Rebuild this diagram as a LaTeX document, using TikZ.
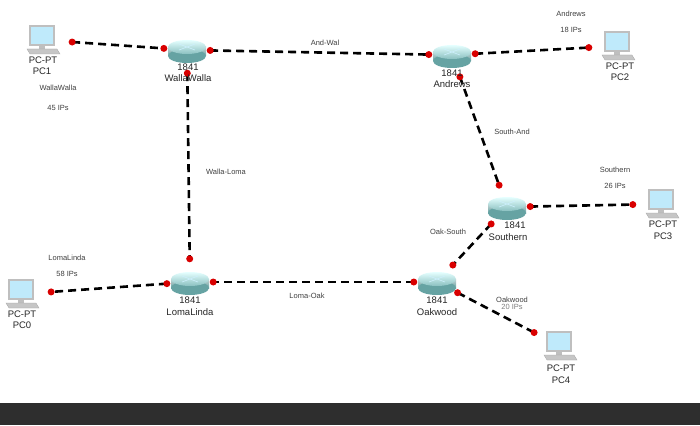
\documentclass[tikz,border=0pt]{standalone}
\usepackage{fontspec}
\setmainfont{Liberation Sans}
\begin{document}
\begin{tikzpicture}[x=1pt,y=-1pt,
  dev/.style={circle,minimum size=46pt,inner sep=0pt},
  pcdev/.style={circle,minimum size=58pt,inner sep=0pt},
  lnk/.style={line width=2.6pt,dash pattern=on 8pt off 5pt},
  dot/.style={circle,fill=red!85!black,inner sep=0pt,minimum size=7pt},
  lbl/.style={font=\fontsize{9.5}{10}\selectfont,text=black!85,inner sep=0pt},
  ann/.style={font=\fontsize{7.5}{8}\selectfont,text=black!75,inner sep=0pt}]
\useasboundingbox (0,0) rectangle (700,425);
\fill[white] (0,0) rectangle (700,425);
\fill[black!82] (0,403) rectangle (700,425);
\tikzset{router/.pic={
  \shade[top color=cyan!15!gray!40, bottom color=cyan!40!black!60] (-19,-3) rectangle (19,6);
  \shade[bottom color=cyan!40!black!60, top color=cyan!40!black!60] (0,6) ellipse (19 and 7);
  \shade[top color=cyan!10!white, bottom color=cyan!30!gray!70] (0,-3) ellipse (19 and 7);
  \draw[white!80!cyan,line width=0.6pt] (-8,-6)--(8,0) (-8,0)--(8,-6);
 },
 pc/.pic={
  \fill[gray!50] (-14,-15) rectangle (12,6);
  \fill[cyan!25!white] (-12,-13) rectangle (10,4);
  \fill[gray!50] (-4,6) rectangle (2,9);
  \fill[gray!45] (-16,9) -- (14,9) -- (17,14) -- (-13,14) -- cycle;
  \draw[gray!70,line width=0.3pt] (-16,9) -- (14,9) -- (17,14) -- (-13,14) -- cycle;
 }}
% devices
\node[dev] (ww) at (187,50) {}; \pic at (187,50) {router};
\node[dev] (an) at (452,55) {}; \pic at (452,55) {router};
\node[dev] (so) at (507,207) {}; \pic at (507,207) {router};
\node[dev] (ok) at (437,282) {}; \pic at (437,282) {router};
\node[dev] (ll) at (190,282) {}; \pic at (190,282) {router};
\node[pcdev] (pc1) at (43,40) {}; \pic at (43,40) {pc};
\node[pcdev] (pc2) at (618,46) {}; \pic at (618,46) {pc};
\node[pcdev] (pc3) at (662,204) {}; \pic at (662,204) {pc};
\node[pcdev] (pc0) at (22,294) {}; \pic at (22,294) {pc};
\node[pcdev] (pc4) at (560,346) {}; \pic at (560,346) {pc};
% links
\foreach \a/\b in {pc1/ww,ww/an,an/pc2,an/so,so/pc3,so/ok,ok/pc4,ok/ll,ll/pc0,ww/ll}{
  \draw[lnk] (\a) -- (\b) node[dot,pos=0]{} node[dot,pos=1]{};
}
% link labels
\node[ann] (l1) at (325,43) {And-Wal};
\node[ann] (l2) at (512,132) {South-And};
\node[ann] (l3) at (448,232) {Oak-South};
\node[ann] (l4) at (307,296) {Loma-Oak};
\node[ann] (l5) at (226,172) {Walla-Loma};
% device labels
\node[lbl] (t1) at (188,67) {1841}; \node[lbl] (t2) at (188,78) {WallaWalla};
\node[lbl] (t3) at (452,73) {1841}; \node[lbl] (t4) at (452,84) {Andrews};
\node[lbl] (t5) at (515,225) {1841}; \node[lbl] (t6) at (508,237) {Southern};
\node[lbl] (t7) at (437,300) {1841}; \node[lbl] (t8) at (437,312) {Oakwood};
\node[lbl] (t9) at (190,300) {1841}; \node[lbl] (t10) at (190,312) {LomaLinda};
\node[lbl] (p1a) at (43,60) {PC-PT}; \node[lbl] (p1b) at (42,71) {PC1};
\node[lbl] (p2a) at (620,66) {PC-PT}; \node[lbl] (p2b) at (620,77) {PC2};
\node[lbl] (p3a) at (663,224) {PC-PT}; \node[lbl] (p3b) at (663,236) {PC3};
\node[lbl] (p0a) at (22,314) {PC-PT}; \node[lbl] (p0b) at (22,325) {PC0};
\node[lbl] (p4a) at (561,368) {PC-PT}; \node[lbl] (p4b) at (561,380) {PC4};
% annotations
\node[ann] (a1) at (58,88) {WallaWalla}; \node[ann] (a2) at (58,108) {45 IPs};
\node[ann] (a3) at (571,14) {Andrews}; \node[ann] (a4) at (571,30) {18 IPs};
\node[ann] (a5) at (615,170) {Southern}; \node[ann] (a6) at (615,186) {26 IPs};
\node[ann] (a7) at (67,258) {LomaLinda}; \node[ann] (a8) at (67,274) {58 IPs};
\node[ann,text=black!50] (a10) at (512,307) {20 IPs};
\node[ann,fill=white,inner sep=0.5pt] (a9) at (512,300) {Oakwood};
\end{tikzpicture}
\end{document}
